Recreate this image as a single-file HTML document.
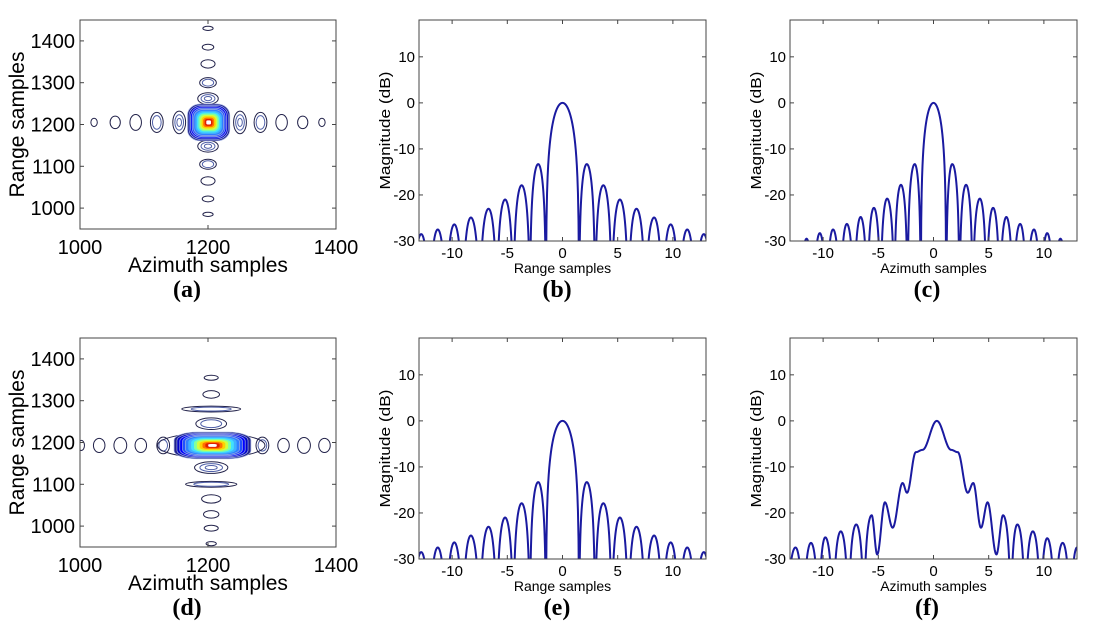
<!DOCTYPE html>
<html><head><meta charset="utf-8">
<style>
html,body{margin:0;padding:0;background:#fff;}
svg{display:block;}
text{font-family:"Liberation Sans",sans-serif;fill:#000;}
.cap{font-family:"Liberation Serif",serif;font-weight:bold;font-size:24px;}
</style></head>
<body>
<svg id="fig" width="1112" height="629" viewBox="0 0 1112 629" xmlns="http://www.w3.org/2000/svg"></svg>
<script>
// ---------- data: profiles (extrema sequences; null = spectral null) ----------
const bX = [-13.55,-12.8,-12.05,-11.3,-10.55,-9.8,-9.05,-8.3,-7.5,-6.7,-5.95,-5.2,-4.45,-3.7,-2.95,-2.2,-1.5,0,1.5,2.2,2.95,3.7,4.45,5.2,5.95,6.7,7.5,8.3,9.05,9.8,10.55,11.3,12.05,12.8,13.55];
const bY = [null,-28.5,null,-27.5,null,-26.4,null,-24.9,null,-23,null,-21,null,-17.9,null,-13.3,null,0,null,-13.3,null,-17.9,null,-21,null,-23,null,-24.9,null,-26.4,null,-27.5,null,-28.5,null];
const cX = [-12.1,-11.5,-10.9,-10.3,-9.7,-9.1,-8.45,-7.85,-7.2,-6.6,-6.0,-5.4,-4.8,-4.2,-3.55,-2.95,-2.35,-1.7,-1.15,0,1.15,1.7,2.35,2.95,3.55,4.2,4.8,5.4,6.0,6.6,7.2,7.85,8.45,9.1,9.7,10.3,10.9,11.5,12.1];
const cY = [null,-29.5,null,-28.3,null,-27.5,null,-26.3,null,-24.8,null,-22.8,null,-20.8,null,-17.8,null,-13.3,null,0,null,-13.3,null,-17.8,null,-20.8,null,-22.8,null,-24.8,null,-26.3,null,-27.5,null,-28.3,null,-29.5,null];
const eX = [-13.55,-12.8,-12.05,-11.3,-10.55,-9.8,-9.05,-8.3,-7.5,-6.7,-5.95,-5.2,-4.45,-3.7,-2.95,-2.2,-1.5,0,1.5,2.2,2.95,3.7,4.45,5.2,5.95,6.7,7.5,8.3,9.05,9.8,10.55,11.3,12.05,12.8,13.55];
const eY = [null,-28.5,null,-27.5,null,-26.4,null,-24.9,null,-23,null,-21,null,-17.9,null,-13.3,null,0,null,-13.3,null,-17.9,null,-21,null,-23,null,-24.9,null,-26.4,null,-27.5,null,-28.5,null];
const fX = [-13.3,-12.5,-11.8,-11.1,-10.4,-9.8,-9.1,-8.4,-7.7,-7.0,-6.3,-5.6,-5.1,-4.4,-3.7,-2.8,-2.4,-1.6,-1.0,0.3,1.6,2.2,3.1,3.6,4.3,4.9,5.7,6.3,7.0,7.6,8.3,9.0,9.7,10.3,11.0,11.7,12.4,13.0,13.7];
const fY = [null,-27.5,null,-26.5,null,-25.3,null,-24,null,-22.5,null,-20.5,-29,-17.7,-23.2,-13.5,-15.6,-6.8,-6.3,0,-6.3,-6.8,-15.6,-13.5,-23.2,-17.7,-29,-20.5,null,-22.5,null,-24,null,-25.5,null,-26.5,null,-27.5,null];
const magTicks = [-30,-20,-10,0,10];
const sampTicks = [-10,-5,0,5,10];
// ---------- data: contour lobes [cx, cy, rx, ry, nested levels] (samples) ----------
const aLobeCx = [1022,1055,1087,1120,1155,1250,1282,1315,1348,1378, 1200,1200,1200,1200,1200,1200,1200,1200,1200,1200];
const aLobeCy = [1205,1205,1205,1205,1205,1205,1205,1205,1205,1205, 1430,1385,1345,1300,1262,1148,1105,1065,1022,985];
const aLobeRx = [5,8,9,10,10,10,10,9,8,5, 8,9,11,13,16,16,13,11,9,8];
const aLobeRy = [10,15,19,24,27,27,24,19,15,10, 5,7,10,12,14,14,12,10,7,5];
const aLobeN  = [1,1,1,2,3,3,2,1,1,1, 1,1,1,2,3,3,2,1,1,1];
const aMain = [1201,1205,33,44];
const dLobeCx = [1002,1030,1063,1095,1130,1285,1318,1350,1382, 1205,1205,1205,1205,1205,1205,1205,1205,1205,1205,1205];
const dLobeCy = [1193,1193,1193,1193,1193,1193,1193,1193,1193, 1355,1315,1280,1245,1193,1140,1100,1065,1028,995,958];
const dLobeRx = [5,9,10,9,10,10,9,10,9, 11,13,46,24,84,26,40,15,12,11,8];
const dLobeRy = [12,17,19,17,20,20,17,19,17, 6,9,7,14,30,14,7,10,9,7,5];
const dLobeN  = [1,1,1,1,2,2,1,1,1, 1,1,2,2,2,3,2,1,1,1,1];
const dMain = [1207,1193,60,32];
const contTicksX = [1000,1200,1400];
const contTicksY = [1000,1100,1200,1300,1400];
const jet = ['#20208a','#0000c8','#0000ff','#2050ff','#3080ff','#40b0ff','#40e0ff','#80ffa0','#d0ff40','#ffd000','#ff7000','#e02000','#ffffff'];

const NS='http://www.w3.org/2000/svg';
const svg=document.getElementById('fig');
function el(tag,attrs,parent){const e=document.createElementNS(NS,tag);for(const k in attrs)e.setAttribute(k,attrs[k]);(parent||svg).appendChild(e);return e;}
function txt(s,attrs,parent){const t=el('text',attrs,parent);t.textContent=s;return t;}

let clipId=0;
function profile(name,box,xs,ys,xlab){
  const g=el('g',{});
  
  
  const [L,T,R,B]=box, x0=-13,x1=13,y0=-30,y1=18;
  const sx=v=>L+(v-x0)/(x1-x0)*(R-L), sy=v=>B-(v-y0)/(y1-y0)*(B-T);
  const id='clip'+(clipId++);
  const cp=el('clipPath',{id:id},g);el('rect',{x:L,y:T,width:R-L,height:B-T},cp);
  let d='';
  for(let i=0;i<xs.length-1;i++){
    const xa=xs[i],ya=ys[i],xb=xs[i+1],yb=ys[i+1];
    for(let k=0;k<=30;k++){
      const t=k/30; const x=xa+(xb-xa)*t; let y;
      if(ya===null&&yb===null){y=-60;}
      else if(ya===null){y=yb+20*Math.log10(Math.max(Math.sin(Math.PI/2*t),1e-4));}
      else if(yb===null){y=ya+20*Math.log10(Math.max(Math.sin(Math.PI/2*(1-t)),1e-4));}
      else{y=ya+(yb-ya)*(1-Math.cos(Math.PI*t))/2;}
      y=Math.max(y,-40);
      d+=(d?'L':'M')+sx(x).toFixed(2)+' '+sy(y).toFixed(2);
    }
  }
  const p=el('path',{d:d,fill:'none',stroke:'#1a1aa0','stroke-width':2,'clip-path':'url(#'+id+')'},g);
  
  
  const ax=el('rect',{x:L,y:T,width:R-L,height:B-T,fill:'none',stroke:'#444','stroke-width':1},g);
  
  
  magTicks.forEach(v=>{
    el('line',{x1:L,x2:L+4,y1:sy(v),y2:sy(v),stroke:'#444'},g);
    el('line',{x1:R,x2:R-4,y1:sy(v),y2:sy(v),stroke:'#444'},g);
    const t=txt(String(v),{x:L-4,y:sy(v)+5,'text-anchor':'end','font-size':15},g);
    
    
  });
  sampTicks.forEach(v=>{
    el('line',{x1:sx(v),x2:sx(v),y1:B,y2:B-4,stroke:'#444'},g);
    el('line',{x1:sx(v),x2:sx(v),y1:T,y2:T+4,stroke:'#444'},g);
    const t=txt(String(v),{x:sx(v),y:B+17,'text-anchor':'middle','font-size':15},g);
    
    
  });
  const xl=txt(xlab,{x:(L+R)/2,y:B+32,'text-anchor':'middle','font-size':14},g);
  
  
  const cx=L-34, cy=(T+B)/2;
  const yl=txt('Magnitude (dB)',{x:cx,y:cy+5,'text-anchor':'middle','font-size':15,transform:'rotate(-90 '+cx+' '+cy+')',textLength:118,lengthAdjust:'spacingAndGlyphs'},g);
  
  
}

function contour(name,box,cxs,cys,rxs,rys,ns,main){
  const g=el('g',{});
  
  
  const [L,T,R,B]=box, x0=1000,x1=1400,y0=950,y1=1450;
  const sx=v=>L+(v-x0)/(x1-x0)*(R-L), sy=v=>B-(v-y0)/(y1-y0)*(B-T);
  const kx=(R-L)/(x1-x0), ky=(B-T)/(y1-y0);
  const id='clip'+(clipId++);
  const cp=el('clipPath',{id:id},g);el('rect',{x:L,y:T,width:R-L,height:B-T},cp);
  const cg=el('g',{'clip-path':'url(#'+id+')'},g);
  for(let i=0;i<cxs.length;i++){
    for(let k=0;k<ns[i];k++){
      const s=1-k*0.32;
      const e=el('ellipse',{cx:sx(cxs[i]),cy:sy(cys[i]),rx:rxs[i]*kx*s,ry:rys[i]*ky*s,fill:'none',stroke:k?'#5060a8':'#22224a','stroke-width':1},cg);
      
      
    }
  }
  const n=jet.length;
  for(let k=0;k<n;k++){
    const s=1-k/(n+0.5);
    const rx=main[2]*kx*s, ry=main[3]*ky*s;
    const e=el('rect',{x:sx(main[0])-rx,y:sy(main[1])-ry,width:2*rx,height:2*ry,rx:rx*0.6,ry:ry*0.6,fill:jet[k],stroke:k<5?'#a0b0e0':'none','stroke-width':0.7},cg);
    
    
  }
  const ax=el('rect',{x:L,y:T,width:R-L,height:B-T,fill:'none',stroke:'#444','stroke-width':1},g);
  
  
  contTicksX.forEach(v=>{
    el('line',{x1:sx(v),x2:sx(v),y1:B,y2:B-4,stroke:'#444'},g);
    el('line',{x1:sx(v),x2:sx(v),y1:T,y2:T+4,stroke:'#444'},g);
    const t=txt(String(v),{x:sx(v),y:B+25,'text-anchor':'middle','font-size':20},g);
    
    
  });
  contTicksY.forEach(v=>{
    el('line',{x1:L,x2:L+4,y1:sy(v),y2:sy(v),stroke:'#444'},g);
    el('line',{x1:R,x2:R-4,y1:sy(v),y2:sy(v),stroke:'#444'},g);
    const t=txt(String(v),{x:L-5,y:sy(v)+7,'text-anchor':'end','font-size':20},g);
    
    
  });
  const xl=txt('Azimuth samples',{x:(L+R)/2,y:B+43,'text-anchor':'middle','font-size':21},g);
  
  
  const cx=17, cy=(T+B)/2;
  const yl=txt('Range samples',{x:cx,y:cy+7,'text-anchor':'middle','font-size':21,transform:'rotate(-90 '+cx+' '+cy+')'},g);
  
  
}

contour('panel-a-contour',[80,20,336,229],aLobeCx,aLobeCy,aLobeRx,aLobeRy,aLobeN,aMain);
profile('panel-b-range-profile',[419,20,706,241],bX,bY,'Range samples');
profile('panel-c-azimuth-profile',[790,20,1077,241],cX,cY,'Azimuth samples');
contour('panel-d-contour',[80,338,336,547],dLobeCx,dLobeCy,dLobeRx,dLobeRy,dLobeN,dMain);
profile('panel-e-range-profile',[419,338,706,559],eX,eY,'Range samples');
profile('panel-f-azimuth-profile',[790,338,1077,559],fX,fY,'Azimuth samples');

const caps=[['(a)',187,297],['(b)',557,297],['(c)',927,297],['(d)',187,615],['(e)',557,615],['(f)',927,615]];
caps.forEach(c=>{
  const t=txt(c[0],{x:c[1],y:c[2],'text-anchor':'middle','class':'cap'});
  
  
});
</script>
</body></html>
